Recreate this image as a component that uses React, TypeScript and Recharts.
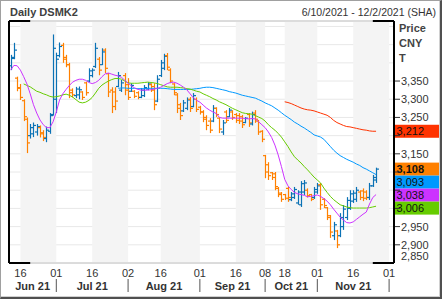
import React from 'react';
import { ComposedChart, Bar, Line, XAxis, YAxis, CartesianGrid, ReferenceArea, ReferenceLine } from 'recharts';

// daily OHLC, Jun 10 2021 .. Nov 25 2021 (trading days, index 0..112)
const OPEN = [
  3392, 3415, 3358, 3332, 3296, 3245, 3200, 3205, 3210, 3222,
  3208, 3192, 3212, 3258, 3300, 3420, 3448, 3415, 3395, 3325,
  3310, 3312, 3320, 3345, 3350, 3365, 3390, 3410, 3395, 3435,
  3370, 3325, 3320, 3335, 3325, 3365, 3340, 3322, 3322, 3318,
  3305, 3310, 3328, 3340, 3335, 3295, 3365, 3385, 3420, 3380,
  3342, 3312, 3285, 3268, 3275, 3300, 3280, 3300, 3278, 3265,
  3250, 3240, 3240, 3275, 3248, 3210, 3265, 3252, 3265, 3258,
  3255, 3252, 3236, 3258, 3232, 3262, 3240, 3212, 3145, 3120,
  3098, 3095, 3055, 3042, 3038, 3055, 3024, 3030, 3015, 3010,
  3045, 3050, 3038, 3030, 3045, 3065, 3025, 3002, 2980, 2925,
  2938, 2925, 2950, 2975, 3000, 3020, 3025, 3045, 3048, 3045,
  3030, 3062, 3078,
];
const HIGH = [
  3422, 3455, 3362, 3342, 3300, 3250, 3232, 3236, 3232, 3228,
  3215, 3225, 3262, 3478, 3428, 3456, 3455, 3422, 3400, 3330,
  3334, 3335, 3322, 3348, 3385, 3385, 3455, 3416, 3440, 3440,
  3372, 3333, 3333, 3375, 3353, 3372, 3358, 3344, 3325, 3322,
  3331, 3339, 3347, 3344, 3344, 3366, 3408, 3425, 3427, 3385,
  3344, 3317, 3290, 3298, 3305, 3306, 3317, 3305, 3282, 3270,
  3256, 3248, 3284, 3278, 3251, 3243, 3270, 3276, 3270, 3262,
  3262, 3257, 3251, 3262, 3266, 3270, 3243, 3215, 3147, 3127,
  3100, 3100, 3059, 3045, 3040, 3059, 3045, 3059, 3050, 3075,
  3078, 3055, 3040, 3059, 3070, 3070, 3028, 3004, 2982, 2963,
  2941, 2987, 3009, 3031, 3050, 3050, 3059, 3050, 3055, 3050,
  3070, 3092, 3112,
];
const LOW = [
  3380, 3410, 3322, 3298, 3240, 3152, 3192, 3196, 3200, 3195,
  3185, 3182, 3205, 3255, 3262, 3415, 3400, 3388, 3303, 3305,
  3303, 3300, 3298, 3310, 3347, 3360, 3386, 3366, 3394, 3372,
  3306, 3262, 3270, 3333, 3320, 3311, 3298, 3320, 3303, 3300,
  3303, 3306, 3325, 3320, 3270, 3292, 3361, 3380, 3380, 3344,
  3311, 3262, 3243, 3265, 3270, 3265, 3278, 3265, 3258, 3237,
  3215, 3207, 3237, 3251, 3207, 3202, 3235, 3251, 3243, 3235,
  3232, 3221, 3234, 3224, 3228, 3235, 3202, 3182, 3083, 3078,
  3078, 3050, 3031, 3018, 3023, 3018, 3020, 3026, 3010, 3004,
  3037, 3030, 3020, 3026, 3040, 2996, 3001, 2968, 2919, 2913,
  2891, 2921, 2941, 2968, 2996, 3015, 3018, 3023, 3020, 3023,
  3023, 3059, 3070,
];
const CLOSE = [
  3412, 3435, 3330, 3305, 3252, 3180, 3222, 3228, 3225, 3205,
  3195, 3215, 3255, 3440, 3410, 3445, 3410, 3395, 3318, 3312,
  3328, 3326, 3305, 3318, 3378, 3380, 3440, 3380, 3430, 3385,
  3320, 3280, 3295, 3365, 3345, 3325, 3305, 3338, 3308, 3305,
  3325, 3332, 3342, 3325, 3285, 3355, 3400, 3418, 3388, 3350,
  3318, 3275, 3255, 3290, 3298, 3275, 3310, 3272, 3265, 3245,
  3228, 3215, 3275, 3258, 3218, 3235, 3242, 3270, 3250, 3242,
  3240, 3230, 3248, 3235, 3258, 3245, 3210, 3190, 3100, 3090,
  3085, 3060, 3038, 3025, 3028, 3030, 3040, 3052, 3045, 3068,
  3070, 3035, 3025, 3052, 3062, 3010, 3008, 2975, 2935, 2955,
  2900, 2975, 2998, 3022, 3040, 3042, 3050, 3030, 3028, 3030,
  3062, 3085, 3108,
];

// moving averages (magenta, green, blue, red)
const MA_FAST = [
  3380, 3393, 3392, 3380, 3362, 3342, 3315, 3285, 3262, 3243,
  3230, 3222, 3222, 3238, 3265, 3298, 3315, 3327, 3338, 3347,
  3352, 3355, 3355, 3352, 3346, 3343, 3346, 3352, 3362, 3370,
  3372, 3369, 3366, 3364, 3360, 3352, 3344, 3337, 3331, 3327,
  3325, 3325, 3325, 3326, 3328, 3330, 3333, 3338, 3343, 3346,
  3347, 3344, 3339, 3333, 3326, 3315, 3304, 3297, 3292, 3284,
  3276, 3270, 3265, 3261, 3250, 3248, 3248, 3248, 3248, 3248,
  3248, 3248, 3247, 3246, 3247, 3246, 3238, 3230, 3222, 3210,
  3195, 3174, 3147, 3115, 3080, 3062, 3052, 3044, 3040, 3038,
  3036, 3032, 3033, 3035, 3037, 3033, 3027, 3020, 3010, 2998,
  2987, 2976, 2968, 2961, 2960, 2963, 2970, 2977, 2984, 2990,
  3012, 3030, 3038,
];
const MA_MID_START = 4;
const MA_MID = [
  3342, 3338, 3334, 3328, 3322, 3319,
  3315, 3312, 3308, 3306, 3307, 3309, 3312, 3314, 3311, 3306,
  3299, 3292, 3290, 3292, 3297, 3305, 3317, 3330, 3339, 3345,
  3350, 3354, 3357, 3357, 3355, 3350, 3345, 3344, 3344, 3344,
  3345, 3346, 3347, 3346, 3345, 3343, 3340, 3337, 3334, 3333,
  3333, 3333, 3332, 3331, 3329, 3328, 3325, 3322, 3320, 3315,
  3311, 3307, 3302, 3298, 3293, 3289, 3285, 3280, 3275, 3271,
  3267, 3263, 3261, 3260, 3259, 3255, 3251, 3247, 3240, 3230,
  3222, 3215, 3206, 3196, 3183, 3170, 3155, 3142, 3133, 3125,
  3115, 3106, 3096, 3086, 3078, 3070, 3056, 3044, 3033, 3024,
  3017, 3010, 3007, 3004, 3002, 3001, 3001, 3001, 3001, 3001,
  3002, 3004, 3006,
];
const MA_SLOW_START = 33;
const MA_SLOW = [
  3330, 3331, 3331, 3330, 3330, 3330, 3329,
  3329, 3329, 3330, 3330, 3330, 3330, 3330, 3330, 3329, 3328,
  3327, 3327, 3327, 3327, 3327, 3327, 3328, 3329, 3330, 3332,
  3333, 3333, 3332, 3330, 3328, 3326, 3324, 3321, 3319, 3317,
  3314, 3311, 3309, 3307, 3305, 3303, 3299, 3295, 3290, 3286,
  3282, 3276, 3270, 3263, 3256, 3250, 3244, 3237, 3232, 3226,
  3221, 3215, 3209, 3202, 3199, 3196, 3190, 3180, 3170, 3160,
  3152, 3145, 3140, 3135, 3131, 3127, 3122, 3118, 3112, 3108,
  3103, 3098, 3093,
];
const MA_LONG_START = 84;
const MA_LONG = [
  3293, 3291, 3288, 3284, 3280, 3276,
  3273, 3271, 3270, 3268, 3265, 3262, 3259, 3256, 3250, 3242,
  3236, 3232, 3228, 3225, 3224, 3222, 3220, 3218, 3216, 3215,
  3213, 3212, 3212,
];

// x axis: trading-day index, axis runs to Dec 2 (index 117)
const X_MIN = -0.5;
const X_MAX = 117.5;
const DAY_TICKS = [3, 14, 25, 36, 46, 58, 69, 78, 84, 94, 105, 116];
const DAY_LABELS = ['16', '01', '16', '02', '16', '01', '16', '08', '18', '01', '16', '01'];
const MONTH_STARTS = [X_MIN, 14, 36, 58, 78, 94, 116];
const MONTH_LABELS = ['Jun 21', 'Jul 21', 'Aug 21', 'Sep 21', 'Oct 21', 'Nov 21'];

const Y_MIN = 2850;
const Y_MAX = 3515;
const Y_TICKS = [2850, 2900, 2950, 3000, 3050, 3100, 3150, 3200, 3250, 3300, 3350, 3400, 3450, 3500];
const Y_LABEL_MAX = 3350;

const UP = '#0b72b5';
const DOWN = '#ff8000';
const C_FAST = '#cc33ff';
const C_MID = '#66cc00';
const C_SLOW = '#0099ff';
const C_LONG = '#ff3300';

const W = 442;
const H = 299;
const MARGIN = { top: 21, right: 4, bottom: 6, left: 9 };
const X_AXIS_H = 30;
const PLOT_H = H - MARGIN.top - MARGIN.bottom - X_AXIS_H;
const FONT = '"Liberation Sans", Arial, sans-serif';

const data = OPEN.map((o, i) => ({
  i,
  open: o,
  high: HIGH[i],
  low: LOW[i],
  close: CLOSE[i],
  fast: MA_FAST[i],
  mid: i >= MA_MID_START ? MA_MID[i - MA_MID_START] : null,
  slow: i >= MA_SLOW_START ? MA_SLOW[i - MA_SLOW_START] : null,
  long: i >= MA_LONG_START ? MA_LONG[i - MA_LONG_START] : null,
}));

// month names sit half-way between separators (nudged so they never equal a day tick)
const monthCenters = MONTH_LABELS.map((_, k) => (MONTH_STARTS[k] + MONTH_STARTS[k + 1]) / 2 + 0.01);
const shaded = [];
for (let k = 0; k + 1 < DAY_TICKS.length; k += 2) shaded.push([DAY_TICKS[k], DAY_TICKS[k + 1]]);

// last values shown as tags on the right, pushed down when they overlap
const TAG_H = 13;
const tags = [
  { value: MA_LONG[MA_LONG.length - 1], color: C_LONG, bold: false },
  { value: CLOSE[CLOSE.length - 1], color: DOWN, bold: true },
  { value: MA_SLOW[MA_SLOW.length - 1], color: C_SLOW, bold: false },
  { value: MA_FAST[MA_FAST.length - 1], color: C_FAST, bold: false },
  { value: MA_MID[MA_MID.length - 1], color: C_MID, bold: false },
].sort((a, b) => b.value - a.value);
const toPx = (v: number) => ((Y_MAX - v) / (Y_MAX - Y_MIN)) * PLOT_H;
let prev = -Infinity;
const tagCenters = tags.map((t) => {
  const placed = Math.max(toPx(t.value), prev + TAG_H);
  prev = placed;
  return placed;
});

const OhlcShape = (props: any) => {
  const { x, y, width, height, payload } = props;
  const { open, high, low, close } = payload;
  const cx = Math.round(x + width / 2) + 0.5;
  const span = high - low || 1;
  const yo = y + ((high - open) / span) * height;
  const yc = y + ((high - close) / span) * height;
  return (
    <g stroke={close >= open ? UP : DOWN} strokeWidth={1.2}>
      <line x1={cx} x2={cx} y1={y} y2={y + height} />
      <line x1={cx - 2.5} x2={cx} y1={yo} y2={yo} />
      <line x1={cx} x2={cx + 2.5} y1={yc} y2={yc} />
    </g>
  );
};

const XTick = ({ x, y, payload }: any) => {
  const v = payload.value;
  const d = DAY_TICKS.indexOf(v);
  if (d >= 0) {
    return (
      <g>
        <text x={x} y={y + 14} textAnchor="middle" fontSize={11} fill="#333" fontFamily={FONT}>
          {DAY_LABELS[d]}
        </text>
        {MONTH_STARTS.includes(v) && <line x1={x} x2={x} y1={y + 16} y2={y + 29} stroke="#555" />}
      </g>
    );
  }
  const m = monthCenters.indexOf(v);
  if (m < 0) return <g />;
  return (
    <text x={x} y={y + 27} textAnchor="middle" fontSize={11} fontWeight="bold" fill="#333" fontFamily={FONT}>
      {MONTH_LABELS[m]}
    </text>
  );
};

const YTick = ({ x, y, payload }: any) => {
  const v = payload.value;
  if (v > Y_LABEL_MAX) return <g />;
  const isMin = v === Y_MIN;
  const hidden = !isMin && tagCenters.some((c) => Math.abs(c - toPx(v)) < TAG_H / 2 + 4);
  return (
    <g>
      {!isMin && <line x1={x + 1} x2={x + 6} y1={y} y2={y} stroke="#333" />}
      {!hidden && (
        <text x={x + 7} y={isMin ? y - 3 : y + 4} fontSize={11} fill="#333" fontFamily={FONT}>
          {v.toLocaleString('en-US')}
        </text>
      )}
    </g>
  );
};

const makeTag = (t: any, center: number) => (p: any) => {
  const vb = p.viewBox || {};
  const left = vb.x + vb.width + 1;
  const top = vb.y - TAG_H / 2 + (center - toPx(t.value));
  return (
    <g>
      <rect x={left} y={top} width={46} height={TAG_H} fill={t.color} />
      <text x={left + 1.5} y={top + 10.5} fontSize={11} fontWeight={t.bold ? 'bold' : 'normal'} fill="#111" fontFamily={FONT}>
        {t.value.toLocaleString('en-US')}
      </text>
    </g>
  );
};

const CORNER = 6.5;

export default function App() {
  return (
    <div style={{ position: 'relative', width: W, height: H, background: '#fff', fontFamily: FONT }}>
      <style>{'body{margin:0}'}</style>
      <ComposedChart width={W} height={H} data={data} margin={MARGIN}>
        {shaded.map(([a, b]) => (
          <ReferenceArea key={a} x1={a} x2={b} y1={Y_MIN} y2={Y_MAX} fill="#f4f4f4" fillOpacity={1} stroke="none" ifOverflow="visible" />
        ))}
        <CartesianGrid vertical={false} stroke="#e8e8e8" />
        <XAxis
          dataKey="i"
          type="number"
          domain={[X_MIN, X_MAX]}
          ticks={[...DAY_TICKS, ...monthCenters]}
          interval={0}
          height={X_AXIS_H}
          tick={<XTick />}
          tickLine={false}
          axisLine={false}
          tickSize={0}
          tickMargin={0}
          allowDataOverflow
        />
        <YAxis
          orientation="right"
          type="number"
          domain={[Y_MIN, Y_MAX]}
          ticks={Y_TICKS}
          interval={0}
          width={44}
          tick={<YTick />}
          tickLine={false}
          axisLine={false}
          tickSize={0}
          tickMargin={0}
          allowDataOverflow
        />
        <Bar dataKey={(d: any) => [d.low, d.high]} barSize={3} shape={<OhlcShape />} isAnimationActive={false} />
        <Line dataKey="long" stroke={C_LONG} strokeWidth={1} dot={false} isAnimationActive={false} />
        <Line dataKey="slow" stroke={C_SLOW} strokeWidth={1} dot={false} isAnimationActive={false} />
        <Line dataKey="mid" stroke={C_MID} strokeWidth={1} dot={false} isAnimationActive={false} />
        <Line dataKey="fast" stroke={C_FAST} strokeWidth={1} dot={false} isAnimationActive={false} />

        <ReferenceLine y={Y_MAX} stroke="#c4c4c4" ifOverflow="visible" />
        <ReferenceLine y={Y_MIN} stroke="#c4c4c4" ifOverflow="visible" />
        <ReferenceLine x={X_MIN} stroke="#000" strokeWidth={2} ifOverflow="visible" />
        <ReferenceLine x={X_MAX} stroke="#000" strokeWidth={2} ifOverflow="visible" />
        <ReferenceLine segment={[{ x: X_MIN, y: Y_MAX }, { x: X_MIN + CORNER, y: Y_MAX }]} stroke="#000" strokeWidth={2} ifOverflow="visible" />
        <ReferenceLine segment={[{ x: X_MAX - CORNER, y: Y_MAX }, { x: X_MAX, y: Y_MAX }]} stroke="#000" strokeWidth={2} ifOverflow="visible" />
        <ReferenceLine segment={[{ x: X_MIN, y: Y_MIN }, { x: X_MIN + CORNER, y: Y_MIN }]} stroke="#000" strokeWidth={2} ifOverflow="visible" />
        <ReferenceLine segment={[{ x: X_MAX - CORNER, y: Y_MIN }, { x: X_MAX, y: Y_MIN }]} stroke="#000" strokeWidth={2} ifOverflow="visible" />

        {tags.map((t, k) => (
          <ReferenceLine key={t.value} y={t.value} stroke={t.color} strokeOpacity={0} ifOverflow="visible" label={makeTag(t, tagCenters[k])} />
        ))}
      </ComposedChart>

      <svg width={W} height={H} style={{ position: 'absolute', left: 0, top: 0, pointerEvents: 'none' }} fontFamily={FONT}>
        <text x={10} y={16} fontSize={11} fontWeight="bold" fill="#404040">Daily DSMK2</text>
        <text x={436} y={16} fontSize={10.5} textAnchor="end" fill="#333">6/10/2021 - 12/2/2021 (SHA)</text>
        <text x={399} y={32} fontSize={11} fontWeight="bold" fill="#444">Price</text>
        <text x={399} y={47} fontSize={11} fontWeight="bold" fill="#444">CNY</text>
        <text x={399} y={62} fontSize={11} fontWeight="bold" fill="#444">T</text>
      </svg>
      <div
        style={{
          position: 'absolute',
          left: 0,
          top: 0,
          width: W,
          height: H,
          boxSizing: 'border-box',
          borderLeft: '1px solid #a0a0a0',
          borderTop: '1px solid #a0a0a0',
          borderRight: '2px solid #505050',
          borderBottom: '2px solid #505050',
          boxShadow: 'inset -1px -1px 0 #d0d0d0',
          pointerEvents: 'none',
        }}
      />
    </div>
  );
}
